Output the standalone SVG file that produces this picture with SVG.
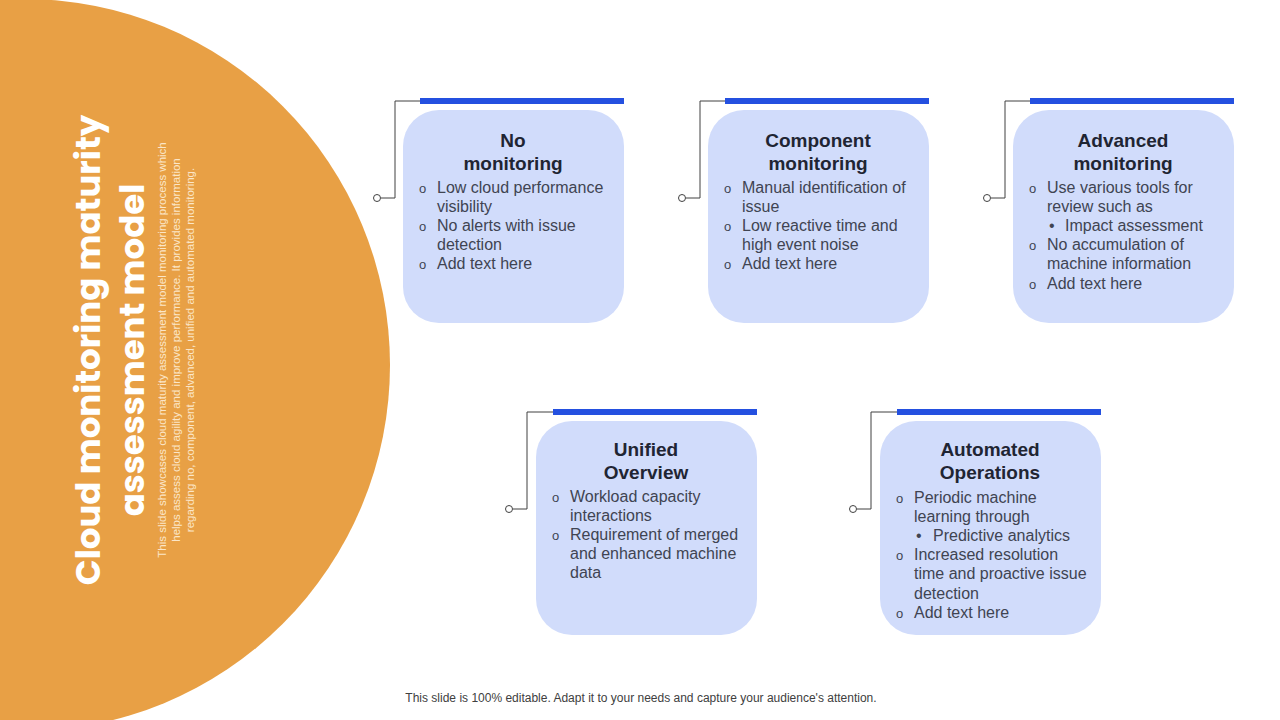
<svg xmlns="http://www.w3.org/2000/svg" width="1280" height="720" viewBox="0 0 1280 720">
<style>
.card{fill:#d1dcfb}
.bar{fill:#2450e0}
.t{font-family:"Liberation Sans",Arial,sans-serif;font-weight:bold;font-size:19px;fill:#1f2533;text-anchor:middle}
.b{font-family:"Liberation Sans",Arial,sans-serif;font-size:16px;fill:#404452}
.o{font-size:13px}
.c{fill:none;stroke:#404040;stroke-width:1}
.dot{fill:#fff;stroke:#404040;stroke-width:1}
</style>
<rect width="1280" height="720" fill="#fff"/>
<circle cx="24" cy="365" r="366" fill="#e8a045"/>
<g id="title">
<text transform="translate(100,350) rotate(-90)" text-anchor="middle" font-family="Poppins,'Noto Sans',sans-serif" font-weight="bold" font-size="34" fill="#fff"><tspan x="0" y="0">Cloud monitoring maturity</tspan><tspan x="0" y="44">assessment model</tspan></text>
<text transform="translate(166,350) rotate(-90)" text-anchor="middle" font-family="'Liberation Sans',sans-serif" font-size="11.5" fill="#fbe6c8"><tspan x="0" y="0">This slide showcases cloud maturity assessment model monitoring process which</tspan><tspan x="0" y="14">helps assess cloud agility and improve performance. It provides information</tspan><tspan x="0" y="28">regarding no, component, advanced, unified and automated monitoring.</tspan></text>
</g>
<g id="connectors">
<path class="c" d="M381 198H395V101H420"/><circle class="dot" cx="377" cy="198" r="3.5"/>
<path class="c" d="M686 198H700V101H725"/><circle class="dot" cx="682" cy="198" r="3.5"/>
<path class="c" d="M991 198H1005V101H1030"/><circle class="dot" cx="987" cy="198" r="3.5"/>
<path class="c" d="M513 509H527V412H553"/><circle class="dot" cx="509" cy="509" r="3.5"/>
<path class="c" d="M857 509H871V412H897"/><circle class="dot" cx="853" cy="509" r="3.5"/>
</g>
<g id="n1">
<rect class="bar" x="420" y="98" width="204" height="6"/>
<rect class="card" x="403" y="110" width="221" height="213" rx="36"/>
<text class="t" x="513" y="147">No</text><text class="t" x="513" y="170">monitoring</text>
<text class="b"><tspan class="o" x="419" y="193">o</tspan><tspan x="437">Low cloud performance</tspan><tspan x="437" y="212">visibility</tspan><tspan class="o" x="419" y="231">o</tspan><tspan x="437">No alerts with issue</tspan><tspan x="437" y="250">detection</tspan><tspan class="o" x="419" y="269">o</tspan><tspan x="437">Add text here</tspan></text>
</g>
<g id="n2">
<rect class="bar" x="725" y="98" width="204" height="6"/>
<rect class="card" x="708" y="110" width="221" height="213" rx="36"/>
<text class="t" x="818" y="147">Component</text><text class="t" x="818" y="170">monitoring</text>
<text class="b"><tspan class="o" x="724" y="193">o</tspan><tspan x="742">Manual identification of</tspan><tspan x="742" y="212">issue</tspan><tspan class="o" x="724" y="231">o</tspan><tspan x="742">Low reactive time and</tspan><tspan x="742" y="250">high event noise</tspan><tspan class="o" x="724" y="269">o</tspan><tspan x="742">Add text here</tspan></text>
</g>
<g id="n3">
<rect class="bar" x="1030" y="98" width="204" height="6"/>
<rect class="card" x="1013" y="110" width="221" height="213" rx="36"/>
<text class="t" x="1123" y="147">Advanced</text><text class="t" x="1123" y="170">monitoring</text>
<text class="b"><tspan class="o" x="1029" y="193">o</tspan><tspan x="1047">Use various tools for</tspan><tspan x="1047" y="212">review such as</tspan><tspan x="1049" y="231">•</tspan><tspan x="1065">Impact assessment</tspan><tspan class="o" x="1029" y="250">o</tspan><tspan x="1047">No accumulation of</tspan><tspan x="1047" y="269">machine information</tspan><tspan class="o" x="1029" y="289">o</tspan><tspan x="1047">Add text here</tspan></text>
</g>
<g id="n4">
<rect class="bar" x="553" y="409" width="204" height="6"/>
<rect class="card" x="536" y="421" width="221" height="214" rx="36"/>
<text class="t" x="646" y="456">Unified</text><text class="t" x="646" y="479">Overview</text>
<text class="b"><tspan class="o" x="552" y="502">o</tspan><tspan x="570">Workload capacity</tspan><tspan x="570" y="521">interactions</tspan><tspan class="o" x="552" y="540">o</tspan><tspan x="570">Requirement of merged</tspan><tspan x="570" y="559">and enhanced machine</tspan><tspan x="570" y="578">data</tspan></text>
</g>
<g id="n5">
<rect class="bar" x="897" y="409" width="204" height="6"/>
<rect class="card" x="880" y="421" width="221" height="214" rx="36"/>
<text class="t" x="990" y="456">Automated</text><text class="t" x="990" y="479">Operations</text>
<text class="b"><tspan class="o" x="896" y="503">o</tspan><tspan x="914">Periodic machine</tspan><tspan x="914" y="522">learning through</tspan><tspan x="916" y="541">•</tspan><tspan x="933">Predictive  analytics</tspan><tspan class="o" x="896" y="560">o</tspan><tspan x="914">Increased resolution</tspan><tspan x="914" y="579">time and proactive issue</tspan><tspan x="914" y="599">detection</tspan><tspan class="o" x="896" y="618">o</tspan><tspan x="914">Add text here</tspan></text>
</g>
<text x="641" y="702" text-anchor="middle" font-family="'Liberation Sans',sans-serif" font-size="12" fill="#404040">This slide is 100% editable. Adapt it to your needs and capture your audience's attention.</text>
</svg>
